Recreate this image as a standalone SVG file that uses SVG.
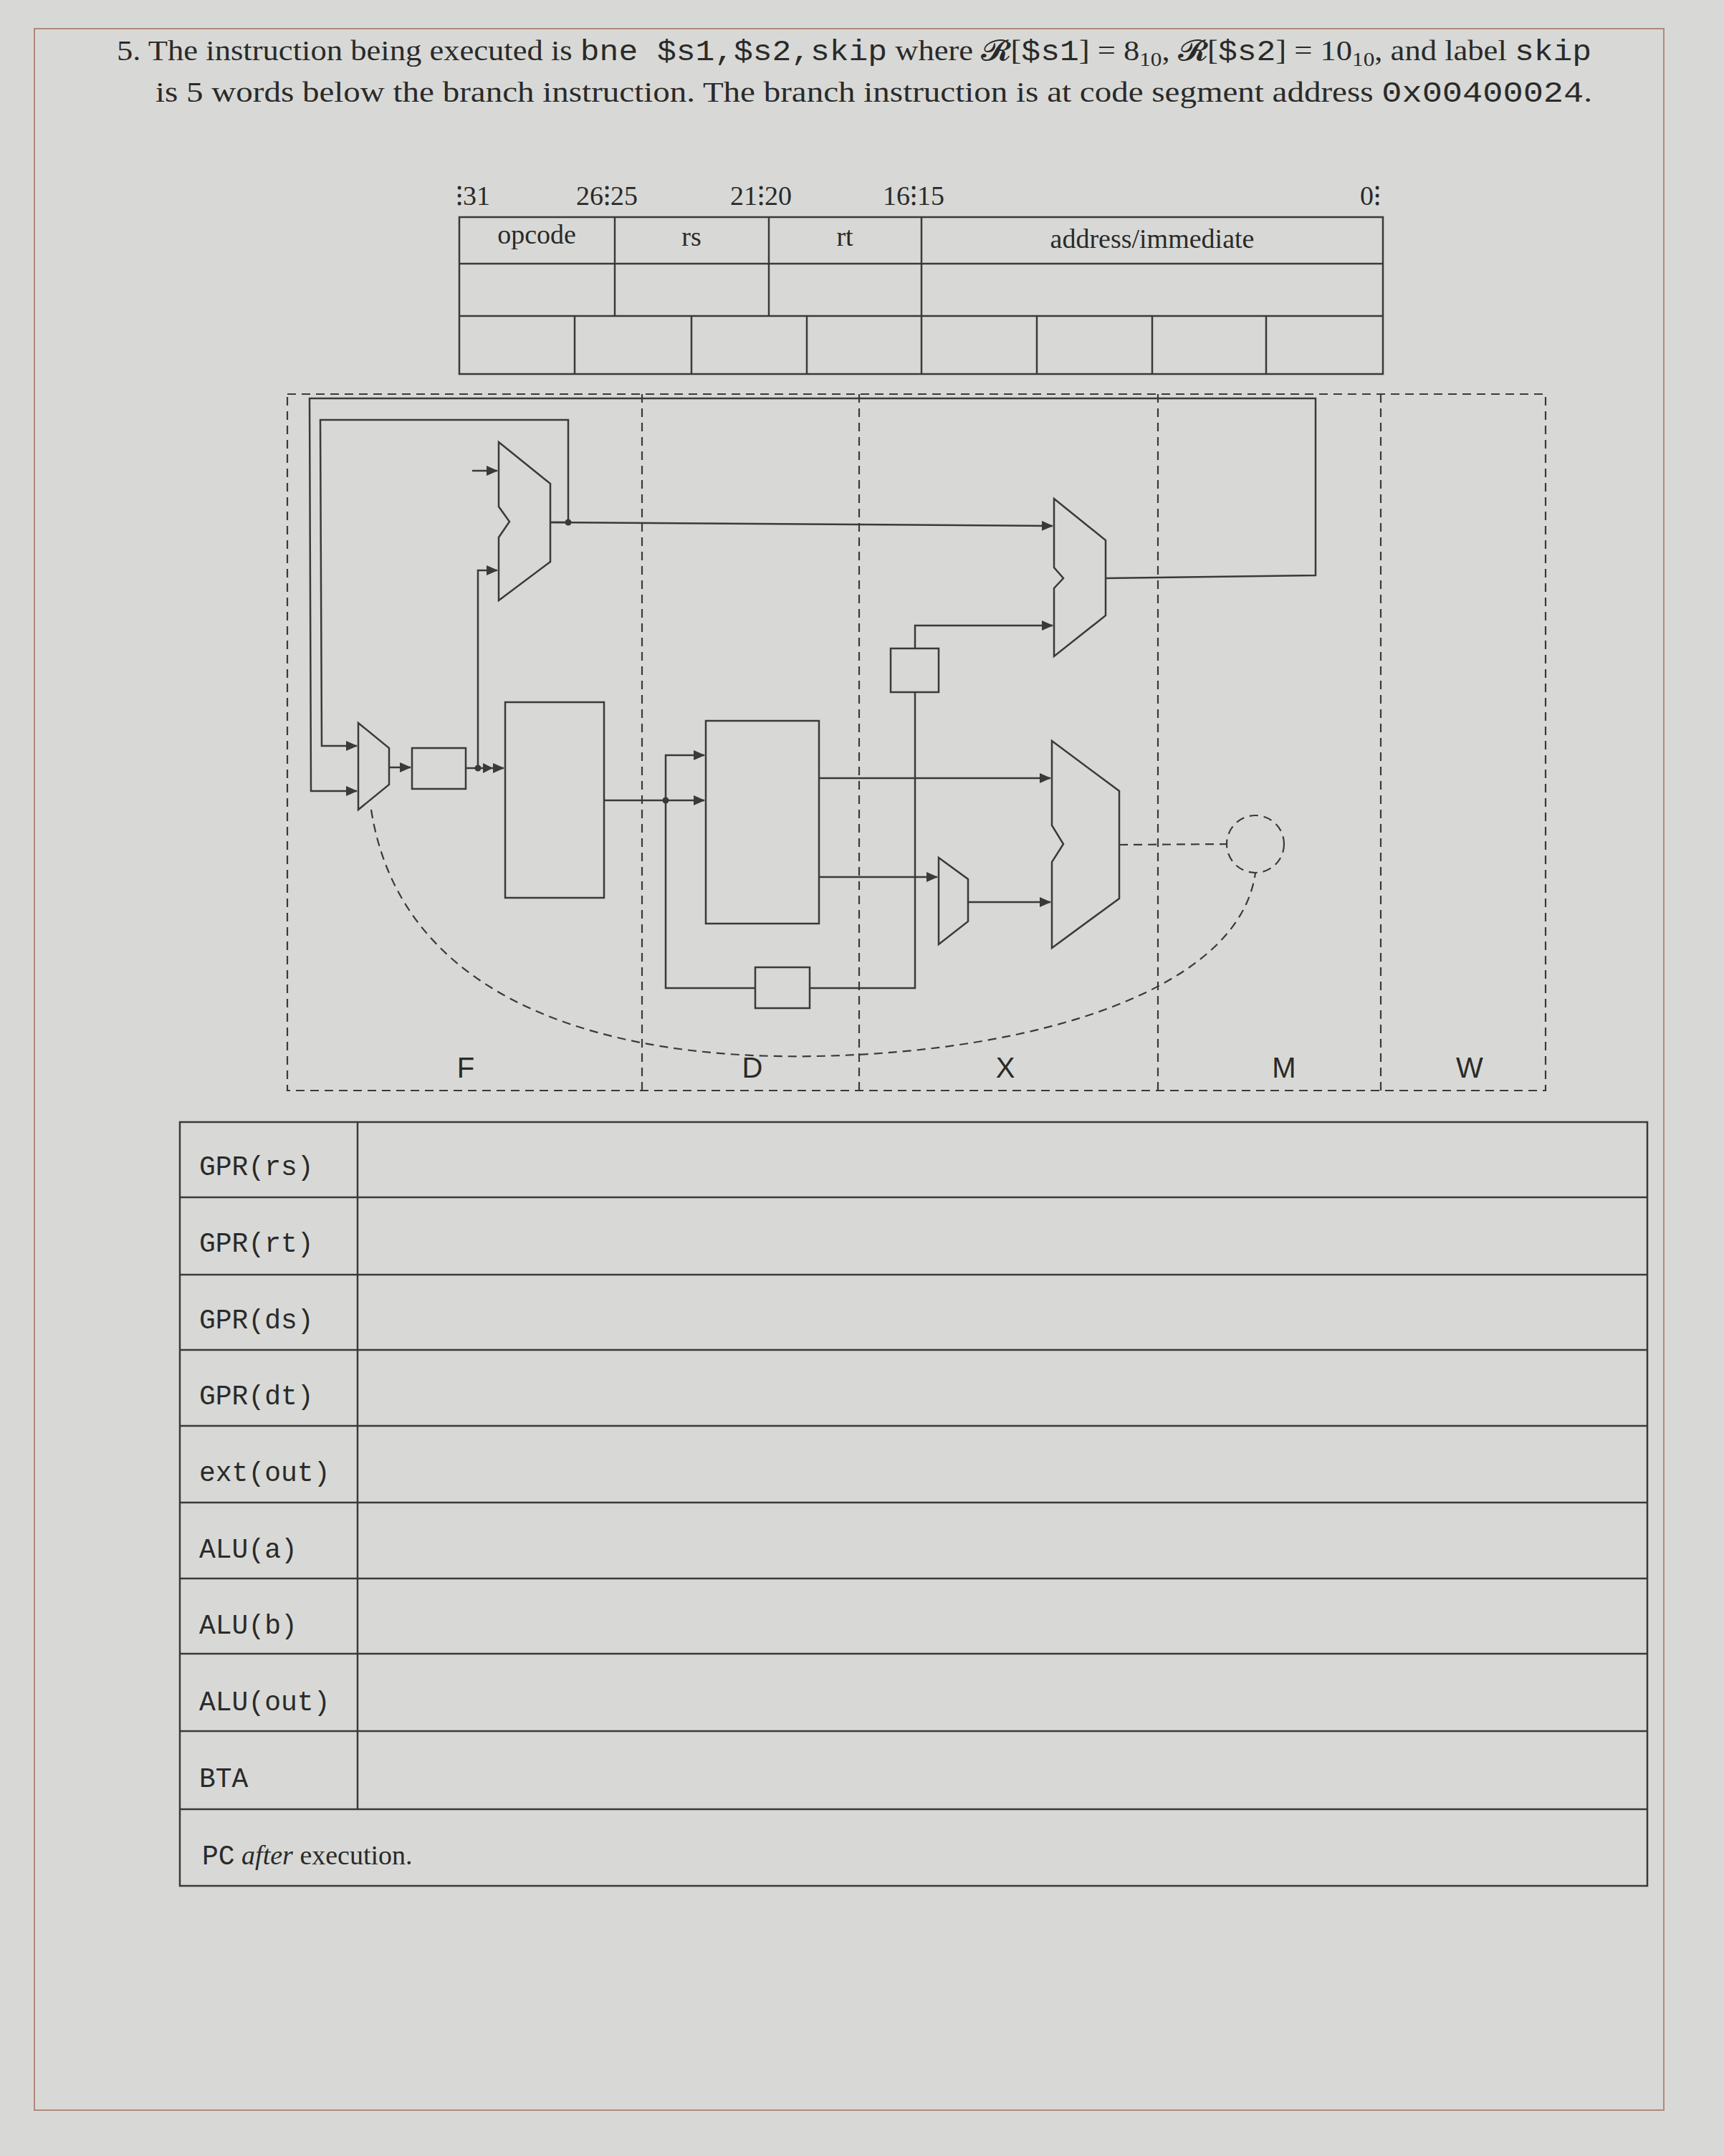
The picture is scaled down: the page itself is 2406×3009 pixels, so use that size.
<svg xmlns="http://www.w3.org/2000/svg" width="2406" height="3009" viewBox="0 0 2406 3009">
<style>
.ln{fill:none;stroke:#3a3a3a;stroke-width:2.5}
.bx{fill:none;stroke:#3a3a3a;stroke-width:2.5}
.dsh{fill:none;stroke:#3a3a3a;stroke-width:2.2;stroke-dasharray:12 8}
.ser{font-family:"Liberation Serif",serif;fill:#2a2a2a}
.mono{font-family:"Liberation Mono",monospace;fill:#2a2a2a}
.sans{font-family:"Liberation Sans",sans-serif;fill:#2a2a2a;font-size:40px}
.tl{font-family:"Liberation Mono",monospace;fill:#2a2a2a;font-size:38px}
</style>
<defs>
<marker id="ar" markerWidth="16" markerHeight="14" refX="15" refY="7" orient="auto" markerUnits="userSpaceOnUse" viewBox="0 0 16 14"><path d="M0,0 L16,7 L0,14 z" fill="#3a3a3a"/></marker>
</defs>
<rect width="2406" height="3009" fill="#d8d9d6"/>
<rect x="48" y="40" width="2274" height="2905" fill="none" stroke="#b08a7a" stroke-width="2"/>

<g id="header">
<text class="ser" font-size="40" x="163" y="84" textLength="2058" lengthAdjust="spacingAndGlyphs">5. The instruction being executed is <tspan class="mono">bne $s1,$s2,skip</tspan> where 𝓡[<tspan class="mono">$s1</tspan>] = 8<tspan font-size="28" dy="8">10</tspan><tspan dy="-8">, 𝓡[</tspan><tspan class="mono">$s2</tspan>] = 10<tspan font-size="28" dy="8">10</tspan><tspan dy="-8">, and label </tspan><tspan class="mono">skip</tspan></text>
<text class="ser" font-size="40" x="217" y="142" textLength="2005" lengthAdjust="spacingAndGlyphs">is 5 words below the branch instruction. The branch instruction is at code segment address <tspan class="mono">0x00400024</tspan>.</text>
</g>

<g id="format-table">
<text class="ser" font-size="38" x="636" y="286">⁝31</text>
<text class="ser" font-size="38" x="804" y="286">26⁝25</text>
<text class="ser" font-size="38" x="1019" y="286">21⁝20</text>
<text class="ser" font-size="38" x="1232" y="286">16⁝15</text>
<text class="ser" font-size="38" x="1898" y="286">0⁝</text>
<rect class="bx" x="641" y="303" width="1289" height="219"/>
<line class="ln" x1="641" y1="368" x2="1930" y2="368"/>
<line class="ln" x1="641" y1="441" x2="1930" y2="441"/>
<line class="ln" x1="858" y1="303" x2="858" y2="441"/>
<line class="ln" x1="1073" y1="303" x2="1073" y2="441"/>
<line class="ln" x1="1286" y1="303" x2="1286" y2="522"/>
<line class="ln" x1="802" y1="441" x2="802" y2="522"/>
<line class="ln" x1="965" y1="441" x2="965" y2="522"/>
<line class="ln" x1="1126" y1="441" x2="1126" y2="522"/>
<line class="ln" x1="1447" y1="441" x2="1447" y2="522"/>
<line class="ln" x1="1608" y1="441" x2="1608" y2="522"/>
<line class="ln" x1="1767" y1="441" x2="1767" y2="522"/>
<text class="ser" font-size="38" x="749" y="340" text-anchor="middle">opcode</text>
<text class="ser" font-size="38" x="965" y="343" text-anchor="middle">rs</text>
<text class="ser" font-size="38" x="1179" y="343" text-anchor="middle">rt</text>
<text class="ser" font-size="38" x="1608" y="346" text-anchor="middle">address/immediate</text>
</g>

<g id="stages">
<rect class="dsh" x="401" y="550" width="1756" height="972"/>
<line class="dsh" x1="896" y1="550" x2="896" y2="1522"/>
<line class="dsh" x1="1199" y1="550" x2="1199" y2="1522"/>
<line class="dsh" x1="1616" y1="550" x2="1616" y2="1522"/>
<line class="dsh" x1="1927" y1="550" x2="1927" y2="1522"/>
<text class="sans" x="650" y="1504" text-anchor="middle">F</text>
<text class="sans" x="1050" y="1504" text-anchor="middle">D</text>
<text class="sans" x="1403" y="1504" text-anchor="middle">X</text>
<text class="sans" x="1792" y="1504" text-anchor="middle">M</text>
<text class="sans" x="2051" y="1504" text-anchor="middle">W</text>
</g>

<g id="pc-adder"><path class="bx" d="M696,617 L768,675 L768,784 L696,838 L696,750 L711,728 L696,707 Z"/></g>
<g id="branch-adder"><path class="bx" d="M1471,696 L1543,754 L1543,859 L1471,916 L1471,821 L1484,807 L1471,792 Z"/></g>
<g id="alu"><path class="bx" d="M1468,1034 L1562,1104 L1562,1254 L1468,1323 L1468,1203 L1484,1178 L1468,1152 Z"/></g>
<g id="pc-mux"><path class="bx" d="M500,1009 L543,1044 L543,1095 L500,1130 Z"/></g>
<g id="alu-mux"><path class="bx" d="M1310,1197 L1351,1227 L1351,1286 L1310,1318 Z"/></g>
<g id="pc"><rect class="bx" x="575" y="1044" width="75" height="57"/></g>
<g id="imem"><rect class="bx" x="705" y="980" width="138" height="273"/></g>
<g id="regfile"><rect class="bx" x="985" y="1006" width="158" height="283"/></g>
<g id="shift"><rect class="bx" x="1243" y="905" width="67" height="61"/></g>
<g id="signext"><rect class="bx" x="1054" y="1350" width="76" height="57"/></g>
<g id="zero"><circle class="dsh" cx="1752" cy="1178" r="40"/></g>

<g id="connectors">
<polyline class="ln" points="1543,807 1836,803 1836,556 432,556 434,1104 498,1104" marker-end="url(#ar)"/>
<polyline class="ln" points="768,729 793,729 793,586 447,586 449,1041 498,1041" marker-end="url(#ar)"/>
<line class="ln" x1="659" y1="657" x2="694" y2="657" marker-end="url(#ar)"/>
<line class="ln" x1="768" y1="729" x2="1469" y2="734" marker-end="url(#ar)"/>
<circle cx="793" cy="729" r="4.5" fill="#3a3a3a"/>
<line class="ln" x1="543" y1="1071" x2="573" y2="1071" marker-end="url(#ar)"/>
<line class="ln" x1="650" y1="1072" x2="703" y2="1072" marker-end="url(#ar)"/>
<path d="M674,1065 L688,1072 L674,1079 z" fill="#3a3a3a"/>
<circle cx="667" cy="1072" r="4.5" fill="#3a3a3a"/>
<polyline class="ln" points="667,1072 667,796 694,796" marker-end="url(#ar)"/>
<line class="ln" x1="843" y1="1117" x2="983" y2="1117" marker-end="url(#ar)"/>
<circle cx="929" cy="1117" r="4.5" fill="#3a3a3a"/>
<polyline class="ln" points="1054,1379 929,1379 929,1054 983,1054" marker-end="url(#ar)"/>
<polyline class="ln" points="1130,1379 1277,1379 1277,966"/>
<polyline class="ln" points="1277,905 1277,873 1469,873" marker-end="url(#ar)"/>
<line class="ln" x1="1143" y1="1086" x2="1466" y2="1086" marker-end="url(#ar)"/>
<line class="ln" x1="1143" y1="1224" x2="1308" y2="1224" marker-end="url(#ar)"/>
<line class="ln" x1="1351" y1="1259" x2="1466" y2="1259" marker-end="url(#ar)"/>
<line class="dsh" x1="1562" y1="1179" x2="1712" y2="1178"/>
<path class="dsh" d="M518,1130 C560,1400 850,1480 1140,1474 C1450,1468 1730,1380 1752,1218"/>
</g>

<g id="value-table">
<rect class="bx" x="251" y="1566" width="2048" height="1066"/>
<line class="ln" x1="251" y1="1671" x2="2299" y2="1671"/>
<line class="ln" x1="251" y1="1779" x2="2299" y2="1779"/>
<line class="ln" x1="251" y1="1884" x2="2299" y2="1884"/>
<line class="ln" x1="251" y1="1990" x2="2299" y2="1990"/>
<line class="ln" x1="251" y1="2097" x2="2299" y2="2097"/>
<line class="ln" x1="251" y1="2203" x2="2299" y2="2203"/>
<line class="ln" x1="251" y1="2308" x2="2299" y2="2308"/>
<line class="ln" x1="251" y1="2416" x2="2299" y2="2416"/>
<line class="ln" x1="251" y1="2525" x2="2299" y2="2525"/>
<line class="ln" x1="499" y1="1566" x2="499" y2="2525"/>
<text class="tl" x="278" y="1640">GPR(rs)</text>
<text class="tl" x="278" y="1747">GPR(rt)</text>
<text class="tl" x="278" y="1854">GPR(ds)</text>
<text class="tl" x="278" y="1960">GPR(dt)</text>
<text class="tl" x="278" y="2067">ext(out)</text>
<text class="tl" x="278" y="2174">ALU(a)</text>
<text class="tl" x="278" y="2280">ALU(b)</text>
<text class="tl" x="278" y="2387">ALU(out)</text>
<text class="tl" x="278" y="2494">BTA</text>
<text class="ser" font-size="38" x="282" y="2602"><tspan class="mono">PC</tspan> <tspan font-style="italic">after</tspan> execution.</text>
</g>
</svg>
